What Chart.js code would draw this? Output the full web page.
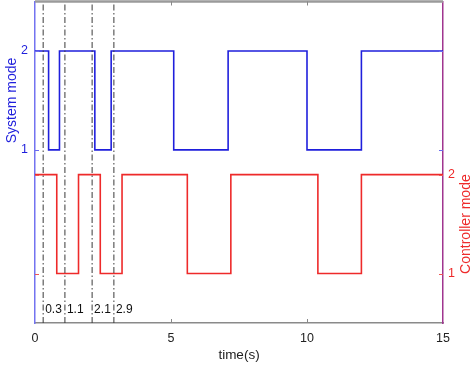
<!DOCTYPE html>
<html>
<head>
<meta charset="utf-8">
<script src="https://cdn.jsdelivr.net/npm/chart.js@4/dist/chart.umd.min.js"></script>
<style>
html,body{margin:0;padding:0;background:#fff;}
#wrap{width:474px;height:390px;}
</style>
</head>
<body>
<div id="wrap"><canvas id="c" width="474" height="390"></canvas></div>
<script>
// ---- data ----
const systemTimes = [0, 0.5, 0.9, 2.2, 2.8, 5.1, 7.1, 10.0, 12.0, 15];
const systemModes = [2, 1, 2, 1, 2, 1, 2, 1, 2, 2];
const controllerTimes = [0, 0.8, 1.6, 2.4, 3.2, 5.6, 7.2, 10.4, 12.0, 15];
const controllerModes = [2, 1, 2, 1, 2, 1, 2, 1, 2, 2];
const markerTimes = [0.3, 1.1, 2.1, 2.9];
const markerLabels = ['0.3', '1.1', '2.1', '2.9'];
const xTicks = [0, 5, 10, 15];
const modeTicks = [1, 2];

const FONT = '"Liberation Sans", Arial, Helvetica, sans-serif';
const BLUE = '#1f1fdc';
const RED = '#ee2a2a';

const toPts = (xs, ys) => xs.map((x, i) => ({x: x, y: ys[i]}));

const datasets = [];
markerTimes.forEach(t => {
  datasets.push({
    data: [{x: t, y: -0.75}, {x: t, y: 2.5}],
    yAxisID: 'y',
    borderColor: '#3a3a3a',
    borderWidth: 1,
    borderDash: [6, 2.5, 1.5, 2.5],
    pointRadius: 0,
    fill: false
  });
});
datasets.push({
  data: toPts(systemTimes, systemModes),
  yAxisID: 'y',
  stepped: 'before',
  borderColor: BLUE,
  borderWidth: 1.6,
  pointRadius: 0,
  fill: false
});
datasets.push({
  data: toPts(controllerTimes, controllerModes),
  yAxisID: 'y2',
  stepped: 'before',
  borderColor: RED,
  borderWidth: 1.6,
  pointRadius: 0,
  fill: false
});

const decor = {
  id: 'decor',
  afterDatasetsDraw(chart) {
    const ctx = chart.ctx;
    const a = chart.chartArea;
    const sx = chart.scales.x, sy = chart.scales.y, sy2 = chart.scales.y2;
    ctx.save();
    // top border
    ctx.strokeStyle = '#9a9a9a';
    ctx.lineWidth = 2.5;
    ctx.beginPath();
    ctx.moveTo(a.left, a.top);
    ctx.lineTo(a.right, a.top);
    ctx.stroke();
    // inner tick marks
    ctx.lineWidth = 1;
    ctx.strokeStyle = '#888';
    xTicks.forEach(v => {
      if (v === 0 || v === 15) return;
      const px = Math.round(sx.getPixelForValue(v)) + 0.5;
      ctx.beginPath();
      ctx.moveTo(px, a.bottom); ctx.lineTo(px, a.bottom - 4);
      ctx.moveTo(px, a.top); ctx.lineTo(px, a.top + 4);
      ctx.stroke();
    });
    ctx.strokeStyle = '#6a6aee';
    modeTicks.forEach(v => {
      const py = Math.round(sy.getPixelForValue(v)) + 0.5;
      ctx.beginPath();
      ctx.moveTo(a.left, py); ctx.lineTo(a.left + 4, py);
      ctx.moveTo(a.right, py); ctx.lineTo(a.right - 4, py);
      ctx.stroke();
    });
    ctx.strokeStyle = '#ee5555';
    modeTicks.forEach(v => {
      const py = Math.round(sy2.getPixelForValue(v)) + 0.5;
      ctx.beginPath();
      ctx.moveTo(a.right, py); ctx.lineTo(a.right - 4, py);
      ctx.moveTo(a.left, py); ctx.lineTo(a.left + 4, py);
      ctx.stroke();
    });
    // marker labels
    ctx.fillStyle = '#111';
    ctx.font = '12px ' + FONT;
    ctx.textAlign = 'left';
    ctx.textBaseline = 'middle';
    markerTimes.forEach((t, i) => {
      const px = sx.getPixelForValue(t);
      ctx.fillText(markerLabels[i], px + 2, a.bottom - 13);
    });
    // axis titles
    ctx.font = '14px ' + FONT;
    ctx.textAlign = 'center';
    ctx.textBaseline = 'middle';
    ctx.fillStyle = BLUE;
    const ly = (sy.getPixelForValue(1) + sy.getPixelForValue(2)) / 2;
    ctx.save();
    ctx.translate(12, ly);
    ctx.rotate(-Math.PI / 2);
    ctx.fillText('System mode', 0, 0);
    ctx.restore();
    ctx.fillStyle = RED;
    const ry = (sy2.getPixelForValue(1) + sy2.getPixelForValue(2)) / 2;
    ctx.save();
    ctx.translate(466, ry);
    ctx.rotate(-Math.PI / 2);
    ctx.fillText('Controller mode', 0, 0);
    ctx.restore();
    ctx.fillStyle = '#222';
    ctx.font = '13.5px ' + FONT;
    ctx.fillText('time(s)', (a.left + a.right) / 2, 355);
    ctx.restore();
  }
};

const zeroPad = s => { s.paddingTop = 0; s.paddingBottom = 0; s.paddingLeft = 0; s.paddingRight = 0; };

new Chart(document.getElementById('c'), {
  type: 'line',
  data: {datasets: datasets},
  plugins: [decor],
  options: {
    responsive: false,
    animation: false,
    events: [],
    layout: {padding: {top: 1.5, left: 0, right: 0, bottom: 0}},
    plugins: {legend: {display: false}, tooltip: {enabled: false}},
    scales: {
      x: {
        type: 'linear',
        position: 'bottom',
        min: 0, max: 15,
        afterBuildTicks: s => { s.ticks = xTicks.map(v => ({value: v})); },
        afterFit: s => { s.height = 67; zeroPad(s); },
        grid: {display: true, drawOnChartArea: false, drawTicks: false},
        border: {display: true, color: '#8a8a8a', width: 1.5},
        ticks: {color: '#222', padding: 8, maxRotation: 0, font: {family: FONT, size: 12.5}}
      },
      y: {
        type: 'linear',
        position: 'left',
        min: -0.75, max: 2.5,
        afterBuildTicks: s => { s.ticks = modeTicks.map(v => ({value: v})); },
        afterFit: s => { s.width = 35; zeroPad(s); },
        grid: {display: true, drawOnChartArea: false, drawTicks: false},
        border: {display: true, color: '#7373f0', width: 1.5},
        ticks: {color: BLUE, padding: 7, font: {family: FONT, size: 12.5}}
      },
      y2: {
        type: 'linear',
        position: 'right',
        min: 0.5, max: 3.75,
        afterBuildTicks: s => { s.ticks = modeTicks.map(v => ({value: v})); },
        afterFit: s => { s.width = 31; zeroPad(s); },
        grid: {display: true, drawOnChartArea: false, drawTicks: false},
        border: {display: true, color: '#a0358f', width: 1.5},
        ticks: {color: RED, padding: 5, font: {family: FONT, size: 12.5}}
      }
    }
  }
});
</script>
</body>
</html>
